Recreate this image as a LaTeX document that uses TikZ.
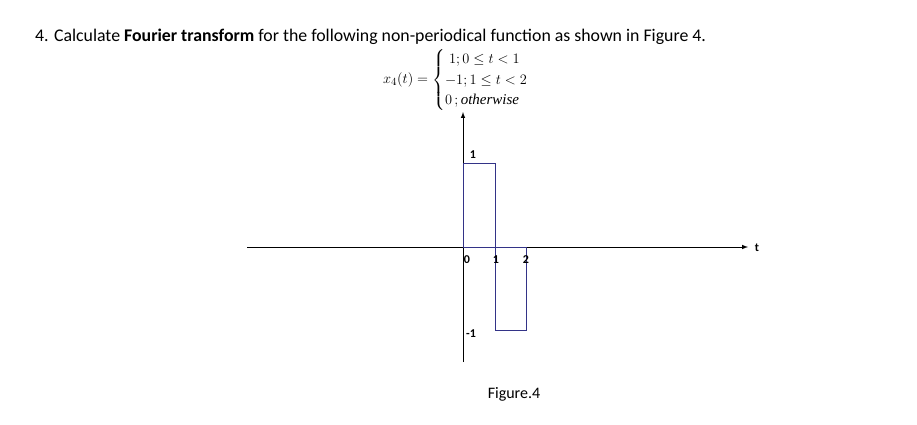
\documentclass[tikz,border=0pt]{standalone}
\usepackage{amsmath}
\usepackage{fontspec}
\setmainfont{Carlito}
\newfontfamily\serifit{Liberation Serif}
\begin{document}
\begin{tikzpicture}[x=1pt,y=-1pt,
  lbl/.style={font=\fontsize{12}{14}\selectfont\bfseries, inner sep=0pt},
  axis/.style={line width=1pt,-latex},
  sig/.style={draw=black!45!blue!60!gray, line width=0.7pt}]
\useasboundingbox (0,0) rectangle (917,424);
\node[anchor=west, inner sep=0pt, font=\fontsize{17.8}{20}\selectfont] (title) at (35,37) {4. Calculate \textbf{Fourier transform} for the following non-periodical function as shown in Figure 4.};
\node[anchor=west, inner sep=0pt, font=\fontsize{15}{17}\selectfont] (eq) at (383,80) {\renewcommand\arraystretch{0.95}$x_4(t)=\begin{cases}\;1;0\leq t<1\\-1;1\leq t<2\\0\,;\text{\serifit\itshape otherwise}\end{cases}$};
\coordinate (yb) at (463,362); \coordinate (yt) at (463,112);
\coordinate (xl) at (247,247); \coordinate (xr) at (748,247);
\draw[axis] (yb) -- (yt);
\draw[axis] (xl) -- (xr);
\node[lbl] (tl) at (757,248) {t};
\coordinate (p0) at (463,247); \coordinate (p1) at (463,163); \coordinate (p2) at (495,163);
\coordinate (p3) at (495,330); \coordinate (p4) at (526,330); \coordinate (p5) at (526,247);
\draw[sig] (p0) -- (p1) -- (p2) -- (p3) -- (p4) -- (p5) -- (p0);
\node[lbl] (one) at (473,155) {1};
\node[lbl] (z) at (467,260) {0};
\node[lbl] (o) at (496,260) {1};
\node[lbl] (t) at (526,260) {2};
\node[lbl] (m) at (471,334) {-1};
\node[inner sep=0pt, font=\fontsize{16}{18}\selectfont] (fig) at (514,394) {Figure.4};
\end{tikzpicture}
\end{document}
